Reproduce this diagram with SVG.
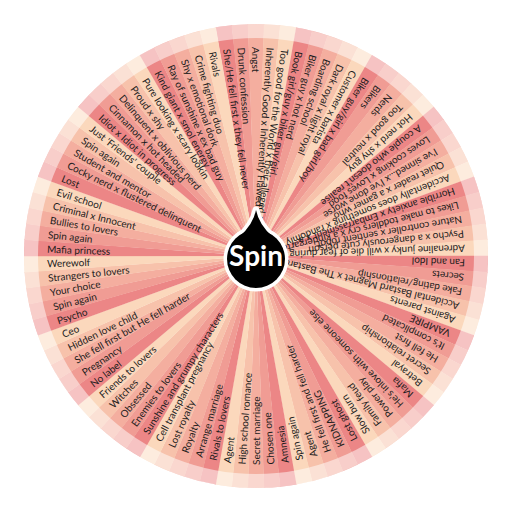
<svg xmlns="http://www.w3.org/2000/svg" xmlns:xlink="http://www.w3.org/1999/xlink" width="512" height="512" viewBox="0 0 512 512">
<style>
.c0{fill:#ec8686}.c1{fill:#f09c94}.c2{fill:#f4ae9f}.c3{fill:#f7c2ab}.c4{fill:#fbd8bc}
.t{font-family:Lato,"Noto Sans",sans-serif;font-size:10px;fill:#1c1c1c;dominant-baseline:central}
</style>
<defs>
<path id="w" d="M256,256 L24.149,264.299 A232,232 0 0 1 24.149,247.701 Z"/>
</defs>
<rect width="512" height="512" fill="#ffffff"/>
<g id="wedges">
<use href="#w" class="c0" transform="rotate(82 256 256)"/><use href="#w" class="c1" transform="rotate(86 256 256)"/><use href="#w" class="c2" transform="rotate(90 256 256)"/><use href="#w" class="c3" transform="rotate(94 256 256)"/><use href="#w" class="c4" transform="rotate(98 256 256)"/>
<use href="#w" class="c0" transform="rotate(102 256 256)"/><use href="#w" class="c1" transform="rotate(106 256 256)"/><use href="#w" class="c2" transform="rotate(110 256 256)"/><use href="#w" class="c3" transform="rotate(114 256 256)"/><use href="#w" class="c4" transform="rotate(118 256 256)"/>
<use href="#w" class="c0" transform="rotate(122 256 256)"/><use href="#w" class="c1" transform="rotate(126 256 256)"/><use href="#w" class="c2" transform="rotate(130 256 256)"/><use href="#w" class="c3" transform="rotate(134 256 256)"/><use href="#w" class="c4" transform="rotate(138 256 256)"/>
<use href="#w" class="c0" transform="rotate(142 256 256)"/><use href="#w" class="c1" transform="rotate(146 256 256)"/><use href="#w" class="c2" transform="rotate(150 256 256)"/><use href="#w" class="c3" transform="rotate(154 256 256)"/><use href="#w" class="c4" transform="rotate(158 256 256)"/>
<use href="#w" class="c0" transform="rotate(162 256 256)"/><use href="#w" class="c1" transform="rotate(166 256 256)"/><use href="#w" class="c2" transform="rotate(170 256 256)"/><use href="#w" class="c3" transform="rotate(174 256 256)"/><use href="#w" class="c4" transform="rotate(178 256 256)"/>
<use href="#w" class="c0" transform="rotate(182 256 256)"/><use href="#w" class="c1" transform="rotate(186 256 256)"/><use href="#w" class="c2" transform="rotate(190 256 256)"/><use href="#w" class="c3" transform="rotate(194 256 256)"/><use href="#w" class="c4" transform="rotate(198 256 256)"/>
<use href="#w" class="c0" transform="rotate(202 256 256)"/><use href="#w" class="c1" transform="rotate(206 256 256)"/><use href="#w" class="c2" transform="rotate(210 256 256)"/><use href="#w" class="c3" transform="rotate(214 256 256)"/><use href="#w" class="c4" transform="rotate(218 256 256)"/>
<use href="#w" class="c0" transform="rotate(222 256 256)"/><use href="#w" class="c1" transform="rotate(226 256 256)"/><use href="#w" class="c2" transform="rotate(230 256 256)"/><use href="#w" class="c3" transform="rotate(234 256 256)"/><use href="#w" class="c4" transform="rotate(238 256 256)"/>
<use href="#w" class="c0" transform="rotate(242 256 256)"/><use href="#w" class="c1" transform="rotate(246 256 256)"/><use href="#w" class="c2" transform="rotate(250 256 256)"/><use href="#w" class="c3" transform="rotate(254 256 256)"/><use href="#w" class="c4" transform="rotate(258 256 256)"/>
<use href="#w" class="c0" transform="rotate(262 256 256)"/><use href="#w" class="c1" transform="rotate(266 256 256)"/><use href="#w" class="c2" transform="rotate(270 256 256)"/><use href="#w" class="c3" transform="rotate(274 256 256)"/><use href="#w" class="c4" transform="rotate(278 256 256)"/>
<use href="#w" class="c0" transform="rotate(282 256 256)"/><use href="#w" class="c1" transform="rotate(286 256 256)"/><use href="#w" class="c2" transform="rotate(290 256 256)"/><use href="#w" class="c3" transform="rotate(294 256 256)"/><use href="#w" class="c4" transform="rotate(298 256 256)"/>
<use href="#w" class="c0" transform="rotate(302 256 256)"/><use href="#w" class="c1" transform="rotate(306 256 256)"/><use href="#w" class="c2" transform="rotate(310 256 256)"/><use href="#w" class="c3" transform="rotate(314 256 256)"/><use href="#w" class="c4" transform="rotate(318 256 256)"/>
<use href="#w" class="c0" transform="rotate(322 256 256)"/><use href="#w" class="c1" transform="rotate(326 256 256)"/><use href="#w" class="c2" transform="rotate(330 256 256)"/><use href="#w" class="c3" transform="rotate(334 256 256)"/><use href="#w" class="c4" transform="rotate(338 256 256)"/>
<use href="#w" class="c0" transform="rotate(342 256 256)"/><use href="#w" class="c1" transform="rotate(346 256 256)"/><use href="#w" class="c2" transform="rotate(350 256 256)"/><use href="#w" class="c3" transform="rotate(354 256 256)"/><use href="#w" class="c4" transform="rotate(358 256 256)"/>
<use href="#w" class="c0" transform="rotate(2 256 256)"/><use href="#w" class="c1" transform="rotate(6 256 256)"/><use href="#w" class="c2" transform="rotate(10 256 256)"/><use href="#w" class="c3" transform="rotate(14 256 256)"/><use href="#w" class="c4" transform="rotate(18 256 256)"/>
<use href="#w" class="c0" transform="rotate(22 256 256)"/><use href="#w" class="c1" transform="rotate(26 256 256)"/><use href="#w" class="c2" transform="rotate(30 256 256)"/><use href="#w" class="c3" transform="rotate(34 256 256)"/><use href="#w" class="c4" transform="rotate(38 256 256)"/>
<use href="#w" class="c0" transform="rotate(42 256 256)"/><use href="#w" class="c1" transform="rotate(46 256 256)"/><use href="#w" class="c2" transform="rotate(50 256 256)"/><use href="#w" class="c3" transform="rotate(54 256 256)"/><use href="#w" class="c4" transform="rotate(58 256 256)"/>
<use href="#w" class="c0" transform="rotate(62 256 256)"/><use href="#w" class="c1" transform="rotate(66 256 256)"/><use href="#w" class="c2" transform="rotate(70 256 256)"/><use href="#w" class="c3" transform="rotate(74 256 256)"/><use href="#w" class="c4" transform="rotate(78 256 256)"/>
<circle cx="256" cy="256" r="225" fill="none" stroke="#ffffff" stroke-opacity="0.5" stroke-width="14"/>
</g>
<g id="labels" class="t">
<text transform="rotate(82 256 256)" x="47" y="256">She/He fell first x they fell never</text>
<text transform="rotate(86 256 256)" x="47" y="256">Drunk confession</text>
<text transform="rotate(90 256 256)" x="47" y="256">Angst</text>
<text transform="rotate(94 256 256)" x="47" y="256">Inherently Good x Inherently Flawed</text>
<text transform="rotate(98 256 256)" x="47" y="256">Too good for the World x their alleged m</text>
<text transform="rotate(102 256 256)" x="47" y="256">Book girl/guy x biker guy/girl</text>
<text transform="rotate(106 256 256)" x="47" y="256">Biker guy x hot nerd</text>
<text transform="rotate(110 256 256)" x="47" y="256">Boarding school</text>
<text transform="rotate(114 256 256)" x="47" y="256">Dark royal x light royal</text>
<text transform="rotate(118 256 256)" x="47" y="256">Customer x barista</text>
<text transform="rotate(122 256 256)" x="47" y="256">Biker guy/girl x bad girl/boy</text>
<text transform="rotate(126 256 256)" x="47" y="256">Bikers</text>
<text transform="rotate(130 256 256)" x="47" y="256">Nerds</text>
<text transform="rotate(134 256 256)" x="47" y="256">Too good x neutral</text>
<text transform="rotate(138 256 256)" x="47" y="256">Hot nerd x shy guy</text>
<text transform="rotate(142 256 256)" x="47" y="256">A couple who doesn't realise</text>
<text transform="rotate(146 256 256)" x="47" y="256">Loves cooking x Loves food</text>
<text transform="rotate(150 256 256)" x="47" y="256">I've sinned...x I've done worse</text>
<text transform="rotate(154 256 256)" x="47" y="256">Quiet reader x a gamer who</text>
<text transform="rotate(158 256 256)" x="47" y="256">Accidentally does something x randomly</text>
<text transform="rotate(162 256 256)" x="47" y="256">Horrible anxiety x Embarrassment x a</text>
<text transform="rotate(166 256 256)" x="47" y="256">Likes to make toddlers cry x a kindergarten</text>
<text transform="rotate(170 256 256)" x="47" y="256">Nature controller x sentient robot</text>
<text transform="rotate(174 256 256)" x="47" y="256">Psycho x a dangerously cute person</text>
<text transform="rotate(178 256 256)" x="47" y="256">Adrenaline junky x will die of fear during</text>
<text transform="rotate(182 256 256)" x="47" y="256">Fan and Idol</text>
<text transform="rotate(186 256 256)" x="47" y="256">Secrets</text>
<text transform="rotate(190 256 256)" x="47" y="256">Fake dating/relationship</text>
<text transform="rotate(194 256 256)" x="47" y="256">Accidental Bastard Magnet x The Bastard</text>
<text transform="rotate(198 256 256)" x="47" y="256">Against parents</text>
<text transform="rotate(202 256 256)" x="47" y="256">VAMPIRE</text>
<text transform="rotate(206 256 256)" x="47" y="256">It's complicated</text>
<text transform="rotate(210 256 256)" x="47" y="256">He fell first</text>
<text transform="rotate(214 256 256)" x="47" y="256">Secret relationship</text>
<text transform="rotate(218 256 256)" x="47" y="256">Betrayal</text>
<text transform="rotate(222 256 256)" x="47" y="256">Mafia</text>
<text transform="rotate(226 256 256)" x="47" y="256">He's inlove with someone else</text>
<text transform="rotate(230 256 256)" x="47" y="256">Power play</text>
<text transform="rotate(234 256 256)" x="47" y="256">Family feud</text>
<text transform="rotate(238 256 256)" x="47" y="256">Slow burn</text>
<text transform="rotate(242 256 256)" x="47" y="256">Lost ghost</text>
<text transform="rotate(246 256 256)" x="47" y="256">KIDNAPPING</text>
<text transform="rotate(250 256 256)" x="47" y="256">He fell first and fell harder</text>
<text transform="rotate(254 256 256)" x="47" y="256">Agent</text>
<text transform="rotate(258 256 256)" x="47" y="256">Spin again</text>
<text transform="rotate(262 256 256)" x="47" y="256">Amnesia</text>
<text transform="rotate(266 256 256)" x="47" y="256">Chosen one</text>
<text transform="rotate(270 256 256)" x="47" y="256">Secret marriage</text>
<text transform="rotate(274 256 256)" x="47" y="256">High school romance</text>
<text transform="rotate(278 256 256)" x="47" y="256">Agent</text>
<text transform="rotate(282 256 256)" x="47" y="256">Rivals to lovers</text>
<text transform="rotate(286 256 256)" x="47" y="256">Arrange marriage</text>
<text transform="rotate(290 256 256)" x="47" y="256">Royalty</text>
<text transform="rotate(294 256 256)" x="47" y="256">Lost royalty</text>
<text transform="rotate(298 256 256)" x="47" y="256">Cell transplant pregnancy</text>
<text transform="rotate(302 256 256)" x="47" y="256">Sunshine and grumpy characters</text>
<text transform="rotate(306 256 256)" x="47" y="256">Enemies to lovers</text>
<text transform="rotate(310 256 256)" x="47" y="256">Obsessed</text>
<text transform="rotate(314 256 256)" x="47" y="256">Witches</text>
<text transform="rotate(318 256 256)" x="47" y="256">Friends to lovers</text>
<text transform="rotate(322 256 256)" x="47" y="256">No label</text>
<text transform="rotate(326 256 256)" x="47" y="256">Pregnancy</text>
<text transform="rotate(330 256 256)" x="47" y="256">She fell first but He fell harder</text>
<text transform="rotate(334 256 256)" x="47" y="256">Hidden love child</text>
<text transform="rotate(338 256 256)" x="47" y="256">Ceo</text>
<text transform="rotate(342 256 256)" x="47" y="256">Psycho</text>
<text transform="rotate(346 256 256)" x="47" y="256">Spin again</text>
<text transform="rotate(350 256 256)" x="47" y="256">Your choice</text>
<text transform="rotate(354 256 256)" x="47" y="256">Strangers to lovers</text>
<text transform="rotate(358 256 256)" x="47" y="256">Werewolf</text>
<text transform="rotate(2 256 256)" x="47" y="256">Mafia princess</text>
<text transform="rotate(6 256 256)" x="47" y="256">Spin again</text>
<text transform="rotate(10 256 256)" x="47" y="256">Bullies to lovers</text>
<text transform="rotate(14 256 256)" x="47" y="256">Criminal x Innocent</text>
<text transform="rotate(18 256 256)" x="47" y="256">Evil school</text>
<text transform="rotate(22 256 256)" x="47" y="256">Lost</text>
<text transform="rotate(26 256 256)" x="47" y="256">Cocky nerd x flustered delinquent</text>
<text transform="rotate(30 256 256)" x="47" y="256">Student and mentor</text>
<text transform="rotate(34 256 256)" x="47" y="256">Spin again</text>
<text transform="rotate(38 256 256)" x="47" y="256">Just 'Friends' couple</text>
<text transform="rotate(42 256 256)" x="47" y="256">Idiot x Idiot in progress</text>
<text transform="rotate(46 256 256)" x="47" y="256">Cinnamon x hot headed</text>
<text transform="rotate(50 256 256)" x="47" y="256">Delinquent x oblivious nerd</text>
<text transform="rotate(54 256 256)" x="47" y="256">Proud x shy</text>
<text transform="rotate(58 256 256)" x="47" y="256">Pure looking x scary lookin</text>
<text transform="rotate(62 256 256)" x="47" y="256">Kind giant x smol energy</text>
<text transform="rotate(66 256 256)" x="47" y="256">Ray of sunshine x ex bad guy</text>
<text transform="rotate(70 256 256)" x="47" y="256">Shy x emotional dork</text>
<text transform="rotate(74 256 256)" x="47" y="256">Crime fighting duo</text>
<text transform="rotate(78 256 256)" x="47" y="256">Rivals</text>
</g>
<g id="spin-button">
<g fill="#ffffff" stroke="#ffffff" stroke-width="7" stroke-linejoin="round">
<circle cx="256" cy="259" r="29"/>
<path d="M256,210 Q259,225 273,237 L239,237 Q253,225 256,210 Z"/>
</g>
<g fill="#000000">
<circle cx="256" cy="259" r="29"/>
<path d="M256,210 Q259,225 273,237 L239,237 Q253,225 256,210 Z"/>
</g>
<text x="256" y="266" text-anchor="middle" font-family="Lato, 'Noto Sans', sans-serif" font-weight="bold" font-size="28" fill="#ffffff">Spin</text>
</g>
</svg>
